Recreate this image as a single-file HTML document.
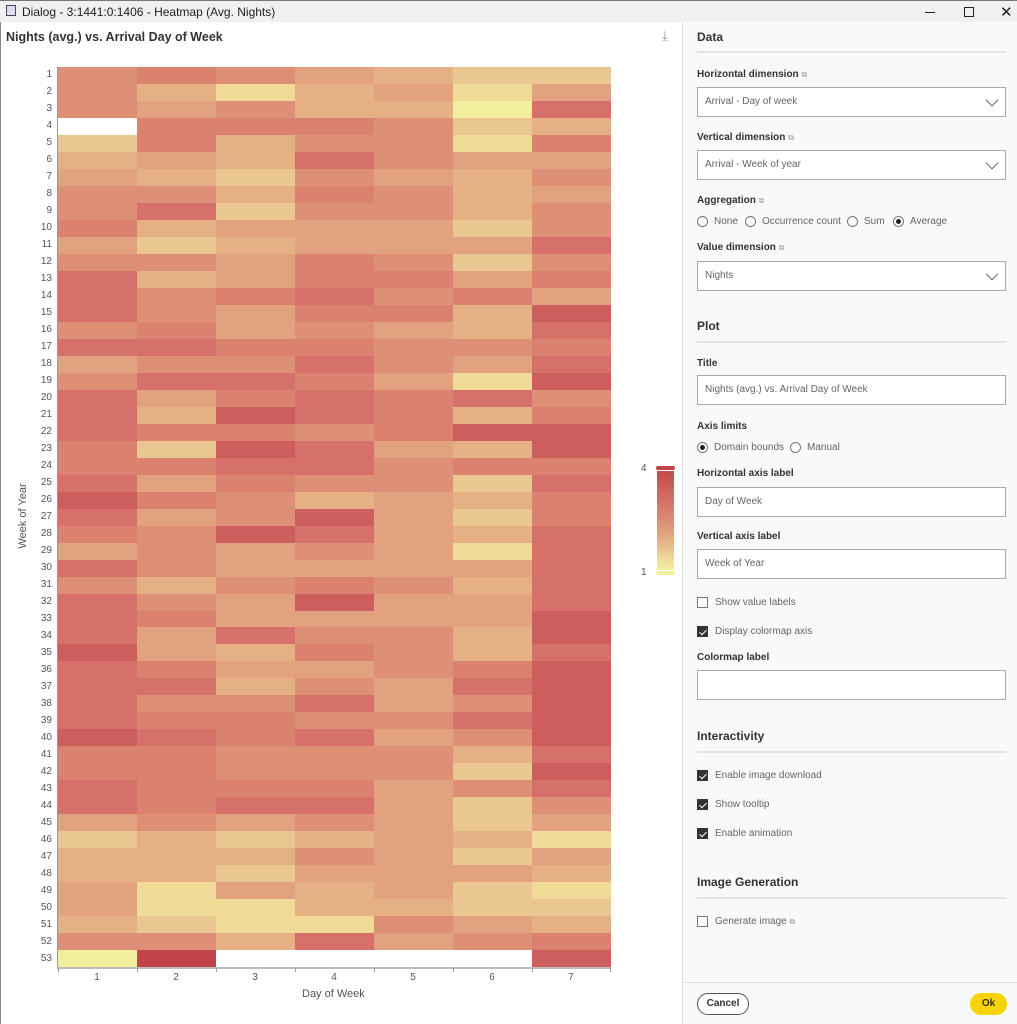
<!DOCTYPE html>
<html><head><meta charset="utf-8"><style>
*{margin:0;padding:0;box-sizing:border-box}
body{width:1017px;height:1024px;position:relative;background:#fff;font-family:"Liberation Sans",sans-serif;overflow:hidden;color:#333}
.a{position:absolute}
#tb{left:0;top:0;width:1017px;height:22px;background:#f0f0f0;border-top:1px solid #777;font-size:12px;color:#222}
#grid{left:58px;top:67px;width:553px;height:900px;display:flex;flex-direction:column}
.r{display:flex;flex:1}
.r i{flex:1;display:block}
.c0{background:#fff}.c1{background:#f4ef9f}.c2{background:#efda98}.c3{background:#eac690}.c4{background:#e5b084}.c5{background:#e2a280}.c6{background:#de9077}.c7{background:#da8170}.c8{background:#d5716a}.c9{background:#cd5e5e}.cA{background:#c0444a}
.yl{position:absolute;left:30px;width:22px;text-align:right;font-size:10px;color:#555}
.xl{position:absolute;top:972px;font-size:10px;color:#555;width:20px;text-align:center}
.xt{position:absolute;top:968px;width:1px;height:4px;background:#999}
#panel{left:682px;top:22px;width:335px;height:1002px;background:#f8f9fa;border-left:1px solid #ddd}
.h{position:absolute;left:697px;font-size:12px;font-weight:bold;color:#333}
.lbl{position:absolute;left:697px;font-size:10px;font-weight:bold;color:#333}
.hr{position:absolute;left:697px;width:309px;height:2px;background:#e2e4e6}
.box{position:absolute;left:697px;width:309px;height:30px;background:#fff;border:1px solid #aaa;font-size:10px;color:#666;padding:8px 7px}
.chev{position:absolute;right:8px;top:7px;width:10px;height:10px;border-right:1.5px solid #555;border-bottom:1.5px solid #555;transform:rotate(45deg) scale(.9)}
.opt{position:absolute;font-size:10px;color:#666}
.rad{position:absolute;width:11px;height:11px;border:1px solid #777;border-radius:50%;background:#fff}
.rad.on::after{content:"";position:absolute;left:2px;top:2px;width:5px;height:5px;border-radius:50%;background:#222}
.cb{position:absolute;left:697px;width:11px;height:11px;border:1px solid #777;background:#fff}
.cb.on{background:#333;border-color:#333}
.cb.on::after{content:"";position:absolute;left:3px;top:1px;width:3px;height:6px;border-right:1.3px solid #fff;border-bottom:1.3px solid #fff;transform:rotate(45deg)}
</style></head><body>
<div id="tb" class="a"><span class="a" style="left:6px;top:4px;width:10px;height:11px;border:1px solid #446;background:#dde"></span><span class="a" style="left:22px;top:4px">Dialog - 3:1441:0:1406 - Heatmap (Avg. Nights)</span>
<span class="a" style="left:925px;top:11px;width:10px;height:1px;background:#222"></span>
<span class="a" style="left:964px;top:6px;width:10px;height:10px;border:1px solid #222"></span>
<span class="a" style="left:1000px;top:2px;font-size:15px">✕</span></div>
<div class="a" style="left:0;top:22px;width:1px;height:1002px;background:#888"></div>
<div class="a" style="left:6px;top:30px;font-size:12.5px;font-weight:bold;color:#333">Nights (avg.) vs. Arrival Day of Week</div>
<div class="a" style="left:662px;top:28px;font-size:13px;color:#999">⤓</div>
<div id="grid" class="a">
<div class="r"><i class="c6"></i><i class="c7"></i><i class="c6"></i><i class="c5"></i><i class="c4"></i><i class="c3"></i><i class="c3"></i></div>
<div class="r"><i class="c6"></i><i class="c4"></i><i class="c2"></i><i class="c4"></i><i class="c5"></i><i class="c2"></i><i class="c5"></i></div>
<div class="r"><i class="c6"></i><i class="c5"></i><i class="c6"></i><i class="c4"></i><i class="c4"></i><i class="c1"></i><i class="c8"></i></div>
<div class="r"><i class="c0"></i><i class="c7"></i><i class="c7"></i><i class="c7"></i><i class="c6"></i><i class="c3"></i><i class="c4"></i></div>
<div class="r"><i class="c3"></i><i class="c7"></i><i class="c4"></i><i class="c6"></i><i class="c6"></i><i class="c2"></i><i class="c7"></i></div>
<div class="r"><i class="c4"></i><i class="c5"></i><i class="c4"></i><i class="c8"></i><i class="c6"></i><i class="c5"></i><i class="c5"></i></div>
<div class="r"><i class="c5"></i><i class="c4"></i><i class="c3"></i><i class="c6"></i><i class="c5"></i><i class="c4"></i><i class="c6"></i></div>
<div class="r"><i class="c6"></i><i class="c6"></i><i class="c4"></i><i class="c7"></i><i class="c6"></i><i class="c4"></i><i class="c5"></i></div>
<div class="r"><i class="c6"></i><i class="c8"></i><i class="c3"></i><i class="c6"></i><i class="c6"></i><i class="c4"></i><i class="c6"></i></div>
<div class="r"><i class="c7"></i><i class="c4"></i><i class="c5"></i><i class="c5"></i><i class="c5"></i><i class="c3"></i><i class="c6"></i></div>
<div class="r"><i class="c5"></i><i class="c3"></i><i class="c4"></i><i class="c5"></i><i class="c5"></i><i class="c5"></i><i class="c8"></i></div>
<div class="r"><i class="c6"></i><i class="c6"></i><i class="c5"></i><i class="c7"></i><i class="c6"></i><i class="c3"></i><i class="c6"></i></div>
<div class="r"><i class="c8"></i><i class="c4"></i><i class="c5"></i><i class="c7"></i><i class="c7"></i><i class="c5"></i><i class="c7"></i></div>
<div class="r"><i class="c8"></i><i class="c6"></i><i class="c7"></i><i class="c8"></i><i class="c6"></i><i class="c7"></i><i class="c5"></i></div>
<div class="r"><i class="c8"></i><i class="c6"></i><i class="c5"></i><i class="c7"></i><i class="c7"></i><i class="c4"></i><i class="c9"></i></div>
<div class="r"><i class="c6"></i><i class="c7"></i><i class="c5"></i><i class="c6"></i><i class="c5"></i><i class="c4"></i><i class="c8"></i></div>
<div class="r"><i class="c8"></i><i class="c8"></i><i class="c7"></i><i class="c7"></i><i class="c6"></i><i class="c6"></i><i class="c7"></i></div>
<div class="r"><i class="c5"></i><i class="c6"></i><i class="c6"></i><i class="c8"></i><i class="c6"></i><i class="c5"></i><i class="c8"></i></div>
<div class="r"><i class="c6"></i><i class="c8"></i><i class="c8"></i><i class="c7"></i><i class="c5"></i><i class="c2"></i><i class="c9"></i></div>
<div class="r"><i class="c8"></i><i class="c5"></i><i class="c7"></i><i class="c8"></i><i class="c7"></i><i class="c8"></i><i class="c6"></i></div>
<div class="r"><i class="c8"></i><i class="c4"></i><i class="c9"></i><i class="c8"></i><i class="c7"></i><i class="c4"></i><i class="c7"></i></div>
<div class="r"><i class="c8"></i><i class="c7"></i><i class="c7"></i><i class="c6"></i><i class="c7"></i><i class="c9"></i><i class="c9"></i></div>
<div class="r"><i class="c7"></i><i class="c3"></i><i class="c9"></i><i class="c8"></i><i class="c5"></i><i class="c4"></i><i class="c9"></i></div>
<div class="r"><i class="c7"></i><i class="c7"></i><i class="c8"></i><i class="c8"></i><i class="c6"></i><i class="c7"></i><i class="c7"></i></div>
<div class="r"><i class="c8"></i><i class="c5"></i><i class="c7"></i><i class="c6"></i><i class="c6"></i><i class="c3"></i><i class="c8"></i></div>
<div class="r"><i class="c9"></i><i class="c7"></i><i class="c6"></i><i class="c4"></i><i class="c5"></i><i class="c4"></i><i class="c7"></i></div>
<div class="r"><i class="c8"></i><i class="c5"></i><i class="c6"></i><i class="c9"></i><i class="c5"></i><i class="c3"></i><i class="c7"></i></div>
<div class="r"><i class="c7"></i><i class="c6"></i><i class="c9"></i><i class="c8"></i><i class="c5"></i><i class="c4"></i><i class="c8"></i></div>
<div class="r"><i class="c5"></i><i class="c6"></i><i class="c5"></i><i class="c6"></i><i class="c5"></i><i class="c2"></i><i class="c8"></i></div>
<div class="r"><i class="c8"></i><i class="c6"></i><i class="c5"></i><i class="c5"></i><i class="c5"></i><i class="c5"></i><i class="c8"></i></div>
<div class="r"><i class="c6"></i><i class="c4"></i><i class="c6"></i><i class="c7"></i><i class="c6"></i><i class="c4"></i><i class="c8"></i></div>
<div class="r"><i class="c8"></i><i class="c6"></i><i class="c5"></i><i class="c9"></i><i class="c5"></i><i class="c5"></i><i class="c8"></i></div>
<div class="r"><i class="c8"></i><i class="c7"></i><i class="c5"></i><i class="c5"></i><i class="c5"></i><i class="c5"></i><i class="c9"></i></div>
<div class="r"><i class="c8"></i><i class="c5"></i><i class="c8"></i><i class="c6"></i><i class="c6"></i><i class="c4"></i><i class="c9"></i></div>
<div class="r"><i class="c9"></i><i class="c5"></i><i class="c4"></i><i class="c7"></i><i class="c6"></i><i class="c4"></i><i class="c8"></i></div>
<div class="r"><i class="c8"></i><i class="c7"></i><i class="c5"></i><i class="c5"></i><i class="c6"></i><i class="c7"></i><i class="c9"></i></div>
<div class="r"><i class="c8"></i><i class="c8"></i><i class="c4"></i><i class="c6"></i><i class="c5"></i><i class="c8"></i><i class="c9"></i></div>
<div class="r"><i class="c8"></i><i class="c6"></i><i class="c6"></i><i class="c8"></i><i class="c5"></i><i class="c6"></i><i class="c9"></i></div>
<div class="r"><i class="c8"></i><i class="c7"></i><i class="c7"></i><i class="c6"></i><i class="c6"></i><i class="c8"></i><i class="c9"></i></div>
<div class="r"><i class="c9"></i><i class="c8"></i><i class="c7"></i><i class="c8"></i><i class="c5"></i><i class="c6"></i><i class="c9"></i></div>
<div class="r"><i class="c7"></i><i class="c7"></i><i class="c6"></i><i class="c6"></i><i class="c6"></i><i class="c4"></i><i class="c8"></i></div>
<div class="r"><i class="c7"></i><i class="c7"></i><i class="c6"></i><i class="c6"></i><i class="c6"></i><i class="c3"></i><i class="c9"></i></div>
<div class="r"><i class="c8"></i><i class="c7"></i><i class="c7"></i><i class="c7"></i><i class="c5"></i><i class="c6"></i><i class="c8"></i></div>
<div class="r"><i class="c8"></i><i class="c7"></i><i class="c8"></i><i class="c8"></i><i class="c5"></i><i class="c3"></i><i class="c6"></i></div>
<div class="r"><i class="c5"></i><i class="c6"></i><i class="c5"></i><i class="c6"></i><i class="c5"></i><i class="c3"></i><i class="c5"></i></div>
<div class="r"><i class="c3"></i><i class="c4"></i><i class="c3"></i><i class="c4"></i><i class="c5"></i><i class="c4"></i><i class="c2"></i></div>
<div class="r"><i class="c4"></i><i class="c4"></i><i class="c4"></i><i class="c6"></i><i class="c5"></i><i class="c3"></i><i class="c5"></i></div>
<div class="r"><i class="c4"></i><i class="c4"></i><i class="c3"></i><i class="c5"></i><i class="c5"></i><i class="c5"></i><i class="c4"></i></div>
<div class="r"><i class="c5"></i><i class="c2"></i><i class="c5"></i><i class="c4"></i><i class="c5"></i><i class="c3"></i><i class="c2"></i></div>
<div class="r"><i class="c5"></i><i class="c2"></i><i class="c2"></i><i class="c4"></i><i class="c4"></i><i class="c3"></i><i class="c3"></i></div>
<div class="r"><i class="c4"></i><i class="c3"></i><i class="c2"></i><i class="c2"></i><i class="c6"></i><i class="c5"></i><i class="c4"></i></div>
<div class="r"><i class="c6"></i><i class="c6"></i><i class="c4"></i><i class="c8"></i><i class="c5"></i><i class="c6"></i><i class="c7"></i></div>
<div class="r"><i class="c1"></i><i class="cA"></i><i class="c0"></i><i class="c0"></i><i class="c0"></i><i class="c0"></i><i class="c9"></i></div>
</div>
<div class="a" style="left:57px;top:67px;width:1px;height:901px;background:#999"></div>
<div class="a" style="left:57px;top:967px;width:554px;height:2px;background:#bbb"></div>
<div class="xt" style="left:58px"></div><div class="xt" style="left:137px"></div><div class="xt" style="left:216px"></div><div class="xt" style="left:295px"></div><div class="xt" style="left:374px"></div><div class="xt" style="left:453px"></div><div class="xt" style="left:532px"></div><div class="xt" style="left:610px"></div>
<div class="yl" style="top:69px">1</div><div class="yl" style="top:86px">2</div><div class="yl" style="top:103px">3</div><div class="yl" style="top:120px">4</div><div class="yl" style="top:137px">5</div><div class="yl" style="top:154px">6</div><div class="yl" style="top:171px">7</div><div class="yl" style="top:188px">8</div><div class="yl" style="top:205px">9</div><div class="yl" style="top:222px">10</div><div class="yl" style="top:239px">11</div><div class="yl" style="top:256px">12</div><div class="yl" style="top:273px">13</div><div class="yl" style="top:290px">14</div><div class="yl" style="top:307px">15</div><div class="yl" style="top:324px">16</div><div class="yl" style="top:341px">17</div><div class="yl" style="top:358px">18</div><div class="yl" style="top:375px">19</div><div class="yl" style="top:392px">20</div><div class="yl" style="top:409px">21</div><div class="yl" style="top:426px">22</div><div class="yl" style="top:443px">23</div><div class="yl" style="top:460px">24</div><div class="yl" style="top:477px">25</div><div class="yl" style="top:494px">26</div><div class="yl" style="top:511px">27</div><div class="yl" style="top:528px">28</div><div class="yl" style="top:545px">29</div><div class="yl" style="top:562px">30</div><div class="yl" style="top:579px">31</div><div class="yl" style="top:596px">32</div><div class="yl" style="top:613px">33</div><div class="yl" style="top:630px">34</div><div class="yl" style="top:647px">35</div><div class="yl" style="top:664px">36</div><div class="yl" style="top:681px">37</div><div class="yl" style="top:698px">38</div><div class="yl" style="top:715px">39</div><div class="yl" style="top:732px">40</div><div class="yl" style="top:749px">41</div><div class="yl" style="top:766px">42</div><div class="yl" style="top:783px">43</div><div class="yl" style="top:800px">44</div><div class="yl" style="top:817px">45</div><div class="yl" style="top:834px">46</div><div class="yl" style="top:851px">47</div><div class="yl" style="top:868px">48</div><div class="yl" style="top:885px">49</div><div class="yl" style="top:902px">50</div><div class="yl" style="top:919px">51</div><div class="yl" style="top:936px">52</div><div class="yl" style="top:953px">53</div>
<div class="xl" style="left:87px">1</div><div class="xl" style="left:166px">2</div><div class="xl" style="left:245px">3</div><div class="xl" style="left:324px">4</div><div class="xl" style="left:403px">5</div><div class="xl" style="left:482px">6</div><div class="xl" style="left:561px">7</div>
<div class="a" style="left:302px;top:988px;font-size:11px;color:#555">Day of Week</div>
<div class="a" style="left:-12px;top:510px;font-size:11px;color:#555;transform:rotate(-90deg);width:70px;text-align:center">Week of Year</div>
<div class="a" style="left:656px;top:466px;width:19px;height:4px;border-radius:2px;background:#c0444a"></div>
<div class="a" style="left:657px;top:471px;width:17px;height:99px;background:linear-gradient(#c44b4f 0%,#cf6562 22%,#de8f76 52%,#e5b084 70%,#f0dc98 90%,#f4ef9f 100%)"></div>
<div class="a" style="left:656px;top:571px;width:19px;height:4px;border-radius:2px;background:#f4ef9f"></div>
<div class="a" style="left:641px;top:463px;font-size:10px;color:#555">4</div>
<div class="a" style="left:641px;top:567px;font-size:10px;color:#555">1</div>
<div id="panel" class="a"></div>
<div class="h" style="top:30px">Data</div><div class="hr" style="top:51px"></div>
<div class="lbl" style="top:69px">Horizontal dimension <span style="font-weight:normal;color:#999;font-size:8px">⧉</span></div>
<div class="box" style="top:87px">Arrival - Day of week<span class="chev"></span></div>
<div class="lbl" style="top:132px">Vertical dimension <span style="font-weight:normal;color:#999;font-size:8px">⧉</span></div>
<div class="box" style="top:150px">Arrival - Week of year<span class="chev"></span></div>
<div class="lbl" style="top:195px">Aggregation <span style="font-weight:normal;color:#999;font-size:8px">⧉</span></div>
<span class="rad" style="left:697px;top:216px"></span><span class="opt" style="left:714px;top:216px">None</span>
<span class="rad" style="left:745px;top:216px"></span><span class="opt" style="left:762px;top:216px">Occurrence count</span>
<span class="rad" style="left:847px;top:216px"></span><span class="opt" style="left:864px;top:216px">Sum</span>
<span class="rad on" style="left:893px;top:216px"></span><span class="opt" style="left:910px;top:216px">Average</span>
<div class="lbl" style="top:242px">Value dimension <span style="font-weight:normal;color:#999;font-size:8px">⧉</span></div>
<div class="box" style="top:261px">Nights<span class="chev"></span></div>
<div class="h" style="top:319px">Plot</div><div class="hr" style="top:341px"></div>
<div class="lbl" style="top:358px">Title</div>
<div class="box" style="top:375px">Nights (avg.) vs. Arrival Day of Week</div>
<div class="lbl" style="top:421px">Axis limits</div>
<span class="rad on" style="left:697px;top:442px"></span><span class="opt" style="left:714px;top:442px">Domain bounds</span>
<span class="rad" style="left:790px;top:442px"></span><span class="opt" style="left:807px;top:442px">Manual</span>
<div class="lbl" style="top:468px">Horizontal axis label</div>
<div class="box" style="top:487px">Day of Week</div>
<div class="lbl" style="top:531px">Vertical axis label</div>
<div class="box" style="top:549px">Week of Year</div>
<span class="cb" style="top:597px"></span><span class="opt" style="left:715px;top:597px">Show value labels</span>
<span class="cb on" style="top:626px"></span><span class="opt" style="left:715px;top:626px">Display colormap axis</span>
<div class="lbl" style="top:652px">Colormap label</div>
<div class="box" style="top:670px"></div>
<div class="h" style="top:729px">Interactivity</div><div class="hr" style="top:751px"></div>
<span class="cb on" style="top:770px"></span><span class="opt" style="left:715px;top:770px">Enable image download</span>
<span class="cb on" style="top:799px"></span><span class="opt" style="left:715px;top:799px">Show tooltip</span>
<span class="cb on" style="top:828px"></span><span class="opt" style="left:715px;top:828px">Enable animation</span>
<div class="h" style="top:875px">Image Generation</div><div class="hr" style="top:897px"></div>
<span class="cb" style="top:916px"></span><span class="opt" style="left:715px;top:916px">Generate image <span style="color:#999;font-size:8px">⧉</span></span>
<div class="a" style="left:682px;top:982px;width:335px;height:1px;background:#ddd"></div>
<div class="a" style="left:697px;top:993px;width:52px;height:22px;border:1.5px solid #555;border-radius:11px;font-size:10px;font-weight:bold;text-align:center;line-height:20px;color:#333;background:#fff">Cancel</div>
<div class="a" style="left:970px;top:993px;width:37px;height:22px;border-radius:11px;background:#f7d400;font-size:10px;font-weight:bold;text-align:center;line-height:22px;color:#333">Ok</div>
</body></html>
